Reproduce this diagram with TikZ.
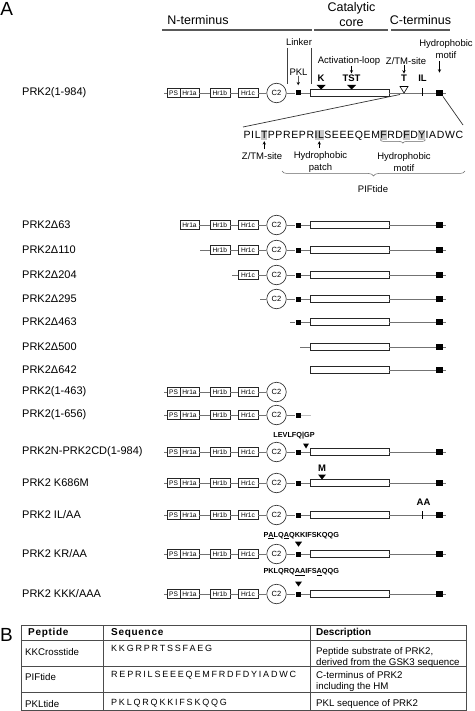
\documentclass[tikz,border=0pt]{standalone}
\usepackage{fontspec}
\setmainfont{Liberation Sans}
\newfontfamily\seqfont[LetterSpace=6]{Liberation Sans}
\newfontfamily\tabseqfont[LetterSpace=20]{Liberation Sans}
\newfontfamily\tabheadfont[LetterSpace=7]{Liberation Sans}
\usetikzlibrary{decorations.pathreplacing}

\begin{document}
\begin{tikzpicture}[x=1pt,y=-1pt,
	bb/.style={draw=black!55,line width=0.8pt},
	dombox/.style={draw=black!85,fill=white,line width=0.6pt,minimum height=9,inner sep=0pt,font=\fontsize{6.6}{7}\selectfont},
	c2dom/.style={circle,draw=black!85,fill=white,line width=0.6pt,minimum size=19.5,inner sep=0pt,font=\fontsize{7.5}{8}\selectfont},
	pklsq/.style={fill=black,minimum size=5,inner sep=0pt},
	hmsq/.style={fill=black,minimum size=6.5,inner sep=0pt},
	kinbox/.style={draw=black!85,fill=white,line width=0.7pt,minimum width=79,minimum height=7,inner sep=0pt},
	rowlab/.style={anchor=west,inner sep=0pt,font=\fontsize{11}{13}\selectfont},
	annot/.style={inner sep=0pt,align=center,font=\fontsize{9.5}{12.5}\selectfont},
	regtxt/.style={inner sep=0pt,align=center,font=\fontsize{12.5}{14.5}\selectfont},
	sitelab/.style={inner sep=0pt,font=\bfseries\fontsize{9.5}{11}\selectfont},
	mutlab/.style={inner sep=0pt,font=\bfseries\fontsize{7.3}{9}\selectfont},
	panel/.style={inner sep=0pt,font=\fontsize{19}{21}\selectfont},
	lbl/.style={->,>=stealth,line width=0.5pt},
	regbar/.style={draw=black!65,line width=1.3pt},
	thinln/.style={draw=black!75,line width=0.6pt},
	zoomln/.style={draw=black!80,line width=0.7pt},
	brc/.style={draw=black!60,line width=0.5pt,decorate},
	seqtxt/.style={inner sep=0pt,font=\seqfont\fontsize{10.5}{12}\selectfont},
	seqhl/.style={seqtxt,fill=black!22,inner ysep=1.2pt},
	tabln/.style={draw=black!70,line width=0.7pt},
	tabhead/.style={anchor=west,inner sep=0pt,font=\tabheadfont\bfseries\fontsize{10}{12}\selectfont},
	tabtxt/.style={anchor=west,inner sep=0pt,align=left,font=\fontsize{9.7}{10.8}\selectfont},
	tabseq/.style={anchor=west,inner sep=0pt,font=\tabseqfont\fontsize{9}{11}\selectfont}
	]
	\useasboundingbox (0,0) rectangle (474,711);
	% positions des domaines
	\def\xs{164} \def\xe{446}
	\def\xps{173.5} \def\xhra{189.5} \def\xhrb{219.8} \def\xhrc{248}
	\def\xctwo{276.5} \def\xpkl{298} \def\xkin{349.5} \def\xhm{439.5}
	%
	\node[panel] (pA) at (6.7,8.5) {A};
	% constructions completes
	\foreach \r/\yy/\lab in {1/93/PRK2(1-984), 11/452/PRK2N-PRK2CD(1-984), 12/483/PRK2 K686M, 13/515/{PRK2 IL/AA}, 14/554/{PRK2 KR/AA}, 15/594/{PRK2 KKK/AAA}}{
		\node[rowlab] (lab\r) at (22,\yy) {\lab};
		\coordinate (s\r) at (\xs,\yy);
		\coordinate (e\r) at (\xe,\yy);
		\node[dombox,minimum width=13] (ps\r) at (\xps,\yy) {PS};
		\node[dombox,minimum width=19] (hra\r) at (\xhra,\yy) {Hr1a};
		\node[dombox,minimum width=20] (hrb\r) at (\xhrb,\yy) {Hr1b};
		\node[dombox,minimum width=20] (hrc\r) at (\xhrc,\yy) {Hr1c};
		\node[c2dom] (c2\r) at (\xctwo,\yy) {C2};
		\node[pklsq] (pkl\r) at (\xpkl,\yy) {};
		\node[kinbox] (kin\r) at (\xkin,\yy) {};
		\node[hmsq] (hm\r) at (\xhm,\yy) {};
		\draw[bb] (s\r) -- (ps\r) (hra\r) -- (hrb\r) -- (hrc\r) -- (c2\r) -- (pkl\r) -- (kin\r) -- (hm\r) -- (e\r);
	}
	%
	% regions
	\node[regtxt] (nterm) at (198,20) {N-terminus};
	\node[regtxt] (catcore) at (351.5,14.3) {Catalytic\\core};
	\node[regtxt] (cterm) at (420.5,20) {C-terminus};
	\draw[regbar] (162,30) -- (312,30) (314,30) -- (388,30) (391,30) -- (450,30);
	\node[annot] (linker) at (299,42) {Linker};
	\draw[thinln] (287.5,48) -- (287.5,84) (311.5,48) -- (311.5,84);
	\node[annot] (pkllab) at (298.5,72.5) {PKL};
	\draw[lbl,shorten >=5] (pkllab) -- (pkl1);
	% sites du domaine kinase
	\node[sitelab] (klab) at (321,78) {K};
	\node[sitelab] (tstlab) at (351.5,78) {TST};
	\node[annot] (actlab) at (349,61) {Activation-loop};
	\draw[lbl,shorten <=0.5,shorten >=1] (actlab.south -| tstlab) -- (tstlab.north);
	\coordinate (kpos) at (321,89.5);
	\coordinate (tstpos) at (351.5,89.5);
	\fill (kpos) -- ++(-4.5,-4.5) -- ++(9,0) -- cycle;
	\fill (tstpos) -- ++(-4.5,-4.5) -- ++(9,0) -- cycle;
	\node[annot] (ztmlab) at (406,61) {Z/TM-site};
	\node[sitelab] (tlab) at (404,78) {T};
	\draw[lbl,shorten <=0.5,shorten >=1] (ztmlab.south -| tlab) -- (tlab.north);
	\coordinate (tpos) at (404,93);
	\filldraw[fill=white,draw=black,line width=0.6pt] (tpos) -- ++(-4,-6.5) -- ++(8,0) -- cycle;
	\node[sitelab] (illab) at (422.5,78) {IL};
	\draw[thinln,draw=black] (422,88.5) -- (422,96.5);
	\node[annot] (hmlab) at (446,49) {Hydrophobic\\motif};
	\draw[lbl,shorten <=2,shorten >=17] (hmlab.south -| hm1) -- (hm1.north);
	%
	% agrandissement de la sequence C-terminale
	\coordinate (zl) at (400,94.5);
	\coordinate (seql) at (243,127);
	\coordinate (seqr) at (463,125);
	\draw[zoomln] (zl) -- (seql) (hm1.south east) -- (seqr);
	\node[inner sep=0pt,anchor=base west] (q0) at (242,138.8) {};
	\foreach \t/\s [count=\i, remember=\i as \j (initially 0)] in {PIL/seqtxt, T/seqhl, PPREPR/seqtxt, IL/seqhl, SEEEQEM/seqtxt, F/seqhl, RD/seqtxt, F/seqhl, D/seqtxt, Y/seqhl, IADWC/seqtxt}
		\node[\s,anchor=base west] (q\i) at (q\j.base east) {\t};
	\node[annot] (ztm2) at (262,155.7) {Z/TM-site};
	\node[annot] (hplab) at (320.5,162) {Hydrophobic\\patch};
	\node[annot] (hm2lab) at (404,162) {Hydrophobic\\motif};
	\draw[lbl,shorten <=3,shorten >=1] (ztm2.north -| q2) -- (q2.south);
	\draw[lbl,shorten <=3,shorten >=1] (hplab.north -| q4) -- (q4.south);
	\draw[brc,decoration={brace,mirror,amplitude=3.5}] ([yshift=0.5]q6.south west) -- ([yshift=0.5]q10.south east);
	\coordinate (pifl) at (282,171);
	\coordinate (pifr) at (465,171);
	\draw[brc,decoration={brace,mirror,amplitude=5}] (pifl) -- (pifr);
	\node[annot] (piflab) at (373,189) {PIFtide};
	%
	% deletions N-terminales
	\node[rowlab] (lab2) at (22,225) {PRK2Δ63};
	\node[dombox,minimum width=19] (hra2) at (\xhra,225) {Hr1a};
	\node[dombox,minimum width=20] (hrb2) at (\xhrb,225) {Hr1b};
	\node[dombox,minimum width=20] (hrc2) at (\xhrc,225) {Hr1c};
	\node[c2dom] (c22) at (\xctwo,225) {C2};
	\node[pklsq] (pkl2) at (\xpkl,225) {};
	\node[kinbox] (kin2) at (\xkin,225) {};
	\node[hmsq] (hm2) at (\xhm,225) {};
	\coordinate (e2) at (\xe,225);
	\draw[bb] (hra2) -- (hrb2) -- (hrc2) -- (c22) -- (pkl2) -- (kin2) -- (hm2) -- (e2);
	%
	\node[rowlab] (lab3) at (22,250) {PRK2Δ110};
	\coordinate (s3) at (200,250);
	\node[dombox,minimum width=20] (hrb3) at (\xhrb,250) {Hr1b};
	\node[dombox,minimum width=20] (hrc3) at (\xhrc,250) {Hr1c};
	\node[c2dom] (c23) at (\xctwo,250) {C2};
	\node[pklsq] (pkl3) at (\xpkl,250) {};
	\node[kinbox] (kin3) at (\xkin,250) {};
	\node[hmsq] (hm3) at (\xhm,250) {};
	\coordinate (e3) at (\xe,250);
	\draw[bb] (s3) -- (hrb3) -- (hrc3) -- (c23) -- (pkl3) -- (kin3) -- (hm3) -- (e3);
	%
	\node[rowlab] (lab4) at (22,275) {PRK2Δ204};
	\coordinate (s4) at (232,275);
	\node[dombox,minimum width=20] (hrc4) at (\xhrc,275) {Hr1c};
	\node[c2dom] (c24) at (\xctwo,275) {C2};
	\node[pklsq] (pkl4) at (\xpkl,275) {};
	\node[kinbox] (kin4) at (\xkin,275) {};
	\node[hmsq] (hm4) at (\xhm,275) {};
	\coordinate (e4) at (\xe,275);
	\draw[bb] (s4) -- (hrc4) -- (c24) -- (pkl4) -- (kin4) -- (hm4) -- (e4);
	%
	\node[rowlab] (lab5) at (22,299) {PRK2Δ295};
	\coordinate (s5) at (260,299);
	\node[c2dom] (c25) at (\xctwo,299) {C2};
	\node[pklsq] (pkl5) at (\xpkl,299) {};
	\node[kinbox] (kin5) at (\xkin,299) {};
	\node[hmsq] (hm5) at (\xhm,299) {};
	\coordinate (e5) at (\xe,299);
	\draw[bb] (s5) -- (c25) -- (pkl5) -- (kin5) -- (hm5) -- (e5);
	%
	\node[rowlab] (lab6) at (22,322) {PRK2Δ463};
	\coordinate (s6) at (290,322);
	\node[pklsq] (pkl6) at (\xpkl,322) {};
	\node[kinbox] (kin6) at (\xkin,322) {};
	\node[hmsq] (hm6) at (\xhm,322) {};
	\coordinate (e6) at (\xe,322);
	\draw[bb] (s6) -- (pkl6) -- (kin6) -- (hm6) -- (e6);
	%
	\node[rowlab] (lab7) at (22,347) {PRK2Δ500};
	\coordinate (s7) at (300,347);
	\node[kinbox] (kin7) at (\xkin,347) {};
	\node[hmsq] (hm7) at (\xhm,347) {};
	\coordinate (e7) at (\xe,347);
	\draw[bb] (s7) -- (kin7) -- (hm7) -- (e7);
	%
	\node[rowlab] (lab8) at (22,370) {PRK2Δ642};
	\node[kinbox] (kin8) at (\xkin,370) {};
	\node[hmsq] (hm8) at (\xhm,370) {};
	\coordinate (e8) at (\xe,370);
	\draw[bb] (kin8) -- (hm8) -- (e8);
	%
	% deletions C-terminales
	\foreach \r/\yy/\lab in {9/392/PRK2(1-463), 10/415/PRK2(1-656)}{
		\node[rowlab] (lab\r) at (22,\yy) {\lab};
		\coordinate (s\r) at (\xs,\yy);
		\node[dombox,minimum width=13] (ps\r) at (\xps,\yy) {PS};
		\node[dombox,minimum width=19] (hra\r) at (\xhra,\yy) {Hr1a};
		\node[dombox,minimum width=20] (hrb\r) at (\xhrb,\yy) {Hr1b};
		\node[dombox,minimum width=20] (hrc\r) at (\xhrc,\yy) {Hr1c};
		\node[c2dom] (c2\r) at (\xctwo,\yy) {C2};
		\draw[bb] (s\r) -- (ps\r) (hra\r) -- (hrb\r) -- (hrc\r) -- (c2\r);
	}
	\node[pklsq] (pkl10) at (\xpkl,415) {};
	\coordinate (e10) at (311,415);
	\draw[bb] (c210) -- (pkl10);
	\draw[bb,draw=black!25] (pkl10) -- (e10);
	%
	% mutants
	\node[mutlab] (cutlab) at (294,436) {LEVLFQ|GP};
	\coordinate (cutpos) at (306,448.5);
	\fill (cutpos) -- ++(-3,-5) -- ++(6,0) -- cycle;
	\node[sitelab] (mlab) at (322,468.5) {M};
	\coordinate (mpos) at (322,479.5);
	\fill (mpos) -- ++(-4,-5) -- ++(8,0) -- cycle;
	\node[sitelab] (aalab) at (423.5,502) {AA};
	\draw[thinln,draw=black] (422,511) -- (422,519);
	\node[mutlab] (krlab) at (301.3,535.7) {P\underline{A}LQ\underline{A}QKKIFSKQQG};
	\coordinate (krpos) at (298.5,546.7);
	\fill (krpos) -- ++(-3.5,-5) -- ++(7,0) -- cycle;
	\node[mutlab] (kkklab) at (301.3,572) {PKLQRQ\underline{AA}IFS\underline{A}QQG};
	\coordinate (kkkpos) at (298.5,586.5);
	\fill (kkkpos) -- ++(-3.5,-5) -- ++(7,0) -- cycle;
	%
	% tableau B
	\node[panel] (pB) at (6.5,634.5) {B};
	\draw[tabln] (21,625) rectangle (466,710);
	\draw[tabln] (103,625) -- (103,710) (310,625) -- (310,710);
	\foreach \yy in {640.5,666,692}{\draw[tabln] (21,\yy) -- (466,\yy);};
	\node[tabhead] (hpep) at (28,633) {Peptide};
	\node[tabhead] (hseq) at (111,633) {Sequence};
	\node[tabhead,font=\bfseries\fontsize{10}{12}\selectfont] (hdesc) at (316,633) {Description};
	\node[tabtxt] (pep1) at (25,652) {KKCrosstide};
	\node[tabseq] (seq1) at (111,648) {KKGRPRTSSFAEG};
	\node[tabtxt] (desc1) at (316,657.3) {Peptide substrate of PRK2,\\derived from the GSK3 sequence};
	\node[tabtxt] (pep2) at (25,677) {PIFtide};
	\node[tabseq] (seq2) at (111,675) {REPRILSEEEQEMFRDFDYIADWC};
	\node[tabtxt] (desc2) at (316,681.5) {C-terminus of PRK2\\including the HM};
	\node[tabtxt] (pep3) at (25,704) {PKLtide};
	\node[tabseq] (seq3) at (111,703) {PKLQRQKKIFSKQQG};
	\node[tabtxt] (desc3) at (316,704) {PKL sequence of PRK2};
\end{tikzpicture}
\end{document}
